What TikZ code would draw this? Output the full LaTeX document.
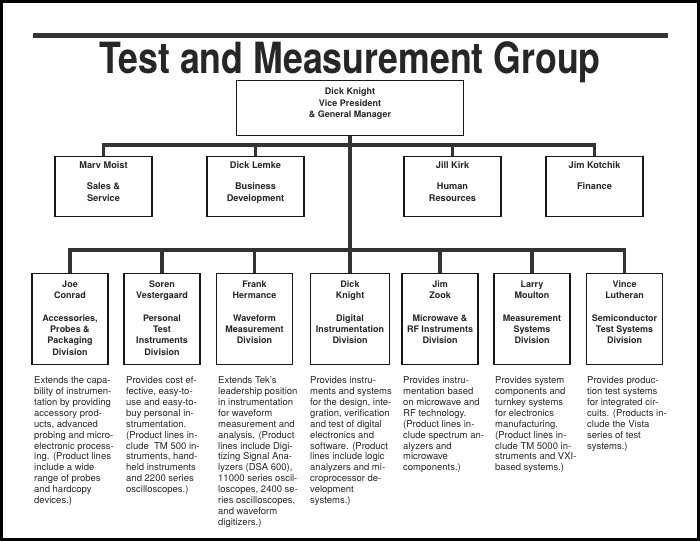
\documentclass[tikz,border=0pt]{standalone}
\usepackage{fontspec}
\setmainfont{TeX Gyre Heros}
\usetikzlibrary{backgrounds}
\begin{document}
\begin{tikzpicture}[x=1pt,y=-1pt,
 conn/.style={line width=3.4pt, draw=black!80, line cap=rect},
 box/.style={draw=black!90, line width=1.3pt, fill=white, inner sep=0pt},
 boxtxt/.style={font=\fontsize{9}{11.3}\selectfont\bfseries, align=center, inner sep=0pt, anchor=north, text=black!85},
 midtxt/.style={font=\fontsize{9.2}{11.8}\selectfont\bfseries, align=center, inner sep=0pt, anchor=north, text=black!85},
 desc/.style={font=\fontsize{9.5}{10.9}\selectfont, align=left, inner sep=0pt, anchor=north west, text=black!85},
 midbox/.style={box, minimum width=97, minimum height=60, anchor=north},
 divbox/.style={box, minimum width=76, minimum height=91, anchor=north},
]
\useasboundingbox (0,0) rectangle (700,541);
\draw[line width=3pt] (1.5,1.5) rectangle (698.5,539.5);
\fill[black!80] (33,33) rectangle (668,37.5);
\node[anchor=base, inner sep=0pt, text=black!85, font=\fontsize{43}{43}\selectfont\bfseries] (title) at (350,73) {\scalebox{0.83}[1]{Test and Measurement Group}};

% top box
\node[box, minimum width=227, minimum height=55, anchor=north] (vp) at (350,80) {};
\node[boxtxt] (vpt) at (350,88) {Dick Knight\\Vice President\\\& General Manager};

% second row
\node[midbox] (m1) at (103.5,156) {};
\node[midbox] (m2) at (255.5,156) {};
\node[midbox] (m3) at (452.5,156) {};
\node[midbox] (m4) at (594.5,156) {};
\node[midtxt] (m1t) at (103.5,161.5) {Marv Moist\\[9.5pt]Sales \&\\Service};
\node[midtxt] (m2t) at (255.5,161.5) {Dick Lemke\\[9.5pt]Business\\Development};
\node[midtxt] (m3t) at (452.5,161.5) {Jill Kirk\\[9.5pt]Human\\Resources};
\node[midtxt] (m4t) at (594.5,161.5) {Jim Kotchik\\[9.5pt]Finance};

% divisions
\node[divbox] (d1) at (70,273) {};
\node[divbox] (d2) at (162,273) {};
\node[divbox] (d3) at (254.5,273) {};
\node[divbox, minimum width=79] (d4) at (350,273) {};
\node[divbox] (d5) at (440,273) {};
\node[divbox] (d6) at (532,273) {};
\node[divbox] (d7) at (624.5,273) {};
\node[boxtxt] (d1t) at (70,280.5) {Joe\\Conrad\\[11.3pt]Accessories,\\Probes \&\\Packaging\\Division};
\node[boxtxt] (d2t) at (162,280.5) {Soren\\Vestergaard\\[11.3pt]Personal\\Test\\Instruments\\Division};
\node[boxtxt] (d3t) at (254.5,280.5) {Frank\\Hermance\\[11.3pt]Waveform\\Measurement\\Division};
\node[boxtxt] (d4t) at (350,280.5) {Dick\\Knight\\[11.3pt]Digital\\Instrumentation\\Division};
\node[boxtxt] (d5t) at (440,280.5) {Jim\\Zook\\[11.3pt]Microwave \&\\RF Instruments\\Division};
\node[boxtxt] (d6t) at (532,280.5) {Larry\\Moulton\\[11.3pt]Measurement\\Systems\\Division};
\node[boxtxt] (d7t) at (624.5,280.5) {Vince\\Lutheran\\[11.3pt]Semiconductor\\Test Systems\\Division};

% descriptions
\node[desc] (x1) at (34,376.5) {Extends the capa-\\bility of instrumen-\\tation by providing\\accessory prod-\\ucts, advanced\\probing and micro-\\electronic process-\\ing. (Product lines\\include a wide\\range of probes\\and hardcopy\\devices.)};
\node[desc] (x2) at (126,376.5) {Provides cost ef-\\fective, easy-to-\\use and easy-to-\\buy personal in-\\strumentation.\\(Product lines in-\\clude\ \ TM 500 in-\\struments, hand-\\held instruments\\and 2200 series\\oscilloscopes.)};
\node[desc] (x3) at (218,376.5) {Extends Tek's\\leadership position\\in instrumentation\\for waveform\\measurement and\\analysis. (Product\\lines include Digi-\\tizing Signal Ana-\\lyzers (DSA 600),\\11000 series oscil-\\loscopes, 2400 se-\\ries oscilloscopes,\\and waveform\\digitizers.)};
\node[desc] (x4) at (310,376.5) {Provides instru-\\ments and systems\\for the design, inte-\\gration, verification\\and test of digital\\electronics and\\software. (Product\\lines include logic\\analyzers and mi-\\croprocessor de-\\velopment\\systems.)};
\node[desc] (x5) at (403,376.5) {Provides instru-\\mentation based\\on microwave and\\RF technology.\\(Product lines in-\\clude spectrum an-\\alyzers and\\microwave\\components.)};
\node[desc] (x6) at (495,376.5) {Provides system\\components and\\turnkey systems\\for electronics\\manufacturing.\\(Product lines in-\\clude TM 5000 in-\\struments and VXI-\\based systems.)};
\node[desc] (x7) at (587,376.5) {Provides produc-\\tion test systems\\for integrated cir-\\cuits. (Products in-\\clude the Vista\\series of test\\systems.)};

% connectors
\coordinate (bar2) at (350,145);
\coordinate (bar3) at (350,250);
\begin{scope}[on background layer]
\draw[conn] (vp.south) -- (d4.north);
\draw[conn] (m1.north |- bar2) -- (m4.north |- bar2);
\foreach \n in {m1,m2,m3,m4} \draw[conn] (\n.north |- bar2) -- (\n.north);
\draw[conn] (d1.north |- bar3) -- (d7.north |- bar3);
\foreach \n in {d1,d2,d3,d5,d6,d7} \draw[conn] (\n.north |- bar3) -- (\n.north);
\end{scope}
\end{tikzpicture}
\end{document}
